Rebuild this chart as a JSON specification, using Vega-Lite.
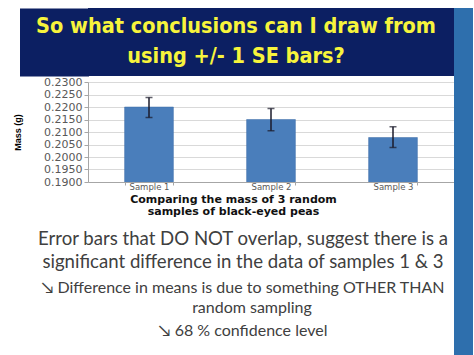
{
  "$schema": "https://vega.github.io/schema/vega-lite/v6.json",
  "background": "white",
  "padding": {"left": 13, "top": 8, "right": 0, "bottom": 0},
  "config": {"view": {"stroke": null}},
  "spacing": 0,
  "hconcat": [
    {
      "spacing": 10,
      "vconcat": [
        {
          "spacing": 0,
          "vconcat": [
            {
              "width": 366,
              "height": 68,
              "view": {"fill": "#0c1f62", "stroke": null},
              "data": {"values": [
                {"line": 1, "text": "So what conclusions can I draw from"},
                {"line": 2, "text": "using +/- 1 SE bars?"}
              ]},
              "mark": {"type": "text", "font": "DejaVu Sans Condensed, Liberation Sans", "fontWeight": "bold", "fontSize": 21.5, "color": "#f7f43c", "baseline": "middle", "dx": -35},
              "encoding": {
                "y": {"field": "line", "type": "ordinal", "scale": {"padding": 0.633},
                      "axis": {"labels": false, "ticks": false, "title": null, "domain": true,
                               "domainColor": "#0c1f62", "domainWidth": 69, "domainCap": "butt", "offset": 34}},
                "text": {"field": "text"}
              }
            },
            {
              "width": 366,
              "height": 100,
              "data": {"values": [
                {"sample": "Sample 1", "mass": 0.2200, "lo": 0.2158, "hi": 0.2238},
                {"sample": "Sample 2", "mass": 0.2150, "lo": 0.2105, "hi": 0.2194},
                {"sample": "Sample 3", "mass": 0.2078, "lo": 0.2038, "hi": 0.2121}
              ]},
              "title": {
                "text": ["Comparing the mass of 3 random", "samples of black-eyed peas"],
                "orient": "bottom", "anchor": "middle", "frame": "bounds",
                "font": "DejaVu Sans", "fontWeight": "bold", "fontSize": 11, "lineHeight": 12.5,
                "color": "#111111", "offset": 3
              },
              "encoding": {
                "x": {"field": "sample", "type": "nominal",
                      "scale": {"paddingInner": 0.6, "paddingOuter": 0.3},
                      "axis": {"title": null, "labelAngle": 0, "labelFont": "DejaVu Sans", "labelFontSize": 8.5,
                               "labelColor": "#595959", "tickBand": "extent", "tickSize": 3, "labelPadding": -3,
                               "tickColor": "#a6a6a6", "domainColor": "#a6a6a6"}}
              },
              "layer": [
                {
                  "mark": {"type": "bar", "color": "#4a7ebb", "stroke": "#3c6ca6", "strokeWidth": 0.5, "clip": true},
                  "encoding": {
                    "y": {"field": "mass", "type": "quantitative", "title": "Mass (g)",
                          "scale": {"domain": [0.19, 0.23], "zero": false, "nice": false},
                          "axis": {"values": [0.19, 0.195, 0.2, 0.205, 0.21, 0.215, 0.22, 0.225, 0.23],
                                   "format": ".4f", "labelOverlap": false,
                                   "labelFont": "DejaVu Sans", "labelFontSize": 11, "labelColor": "#595959",
                                   "labelPadding": 2, "tickSize": 4, "tickColor": "#a6a6a6", "domainColor": "#a6a6a6",
                                   "gridColor": "#d9d9d9", "minExtent": 48, "maxExtent": 48,
                                   "titleFont": "Liberation Sans Narrow, Liberation Sans", "titleFontWeight": "bold",
                                   "titleFontSize": 9, "titleColor": "#000000", "titlePadding": 18}}
                  }
                },
                {
                  "mark": {"type": "errorbar", "ticks": {"size": 7}, "color": "#1b1b2b", "thickness": 1.5},
                  "encoding": {
                    "y": {"field": "lo", "type": "quantitative", "title": "Mass (g)",
                          "axis": {"values": [0.19, 0.195, 0.2, 0.205, 0.21, 0.215, 0.22, 0.225, 0.23],
                                   "format": ".4f", "labelOverlap": false,
                                   "labelFont": "DejaVu Sans", "labelFontSize": 11, "labelColor": "#595959",
                                   "labelPadding": 2, "tickSize": 4, "tickColor": "#a6a6a6", "domainColor": "#a6a6a6",
                                   "gridColor": "#d9d9d9", "minExtent": 48, "maxExtent": 48,
                                   "titleFont": "Liberation Sans Narrow, Liberation Sans", "titleFontWeight": "bold",
                                   "titleFontSize": 9, "titleColor": "#000000", "titlePadding": 18}},
                    "y2": {"field": "hi"}
                  }
                }
              ]
            }
          ]
        },
        {
          "width": 310,
          "height": 115,
          "data": {"values": [
            {"line": 1, "text": "Error bars that DO NOT overlap, suggest there is a"},
            {"line": 2, "text": "significant difference in the data of samples 1 & 3"},
            {"line": 3, "text": "↘ Difference in means is due to something OTHER THAN"},
            {"line": 4, "text": "random sampling"},
            {"line": 5, "text": "↘ 68 % confidence level"}
          ]},
          "encoding": {
            "y": {"field": "line", "type": "ordinal", "axis": null},
            "text": {"field": "text"}
          },
          "layer": [
            {"transform": [{"filter": "datum.line <= 2"}],
             "mark": {"type": "text", "font": "Lato", "fontSize": 18.6, "color": "#404040"}},
            {"transform": [{"filter": "datum.line == 3"}],
             "mark": {"type": "text", "font": "Lato", "fontSize": 16, "color": "#404040", "dy": 3}},
            {"transform": [{"filter": "datum.line == 4"}],
             "mark": {"type": "text", "font": "Lato", "fontSize": 16, "color": "#404040", "dx": 9}},
            {"transform": [{"filter": "datum.line == 5"}],
             "mark": {"type": "text", "font": "Lato", "fontSize": 16, "color": "#404040"}}
          ]
        }
      ]
    },
    {
      "width": 19,
      "height": 347,
      "view": {"fill": "#2e6fad", "stroke": null},
      "data": {"values": []},
      "mark": {"type": "text"},
      "encoding": {}
    }
  ]
}
